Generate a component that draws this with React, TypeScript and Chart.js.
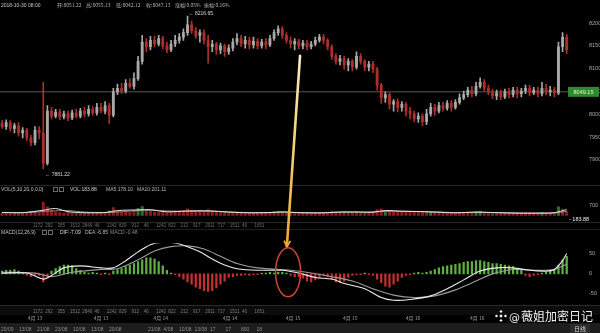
import React, { useEffect, useRef } from "react";
import { Chart, registerables } from "chart.js";
Chart.register(...registerables);

const SLOTS = 140;

// ---- price candles (4h) ----
const opens = [
  7980, 7973, 7982, 7969, 7975, 7959, 7965, 7948, 7938, 7965,
  7959, 7893, 8007, 7996, 8005, 7994, 8001, 7992, 8003, 7996,
  8007, 8001, 8011, 8003, 8015, 8007, 8019, 7998, 8049, 8057,
  8051, 8068, 8061, 8078, 8116, 8158, 8148, 8162, 8154, 8166,
  8150, 8141, 8154, 8162, 8169, 8179, 8196, 8183, 8173, 8179,
  8162, 8148, 8154, 8141, 8150, 8137, 8145, 8158, 8166, 8154,
  8162, 8152, 8160, 8150, 8158, 8152, 8166, 8179, 8187, 8173,
  8162, 8154, 8160, 8150, 8156, 8148, 8154, 8162, 8169, 8162,
  8148, 8127, 8116, 8122, 8108, 8116, 8103, 8127, 8116, 8103,
  8110, 8099, 8064, 8036, 8043, 8022, 8028, 8015, 8022, 8007,
  8001, 7990, 7996, 7984, 8001, 8015, 8007, 8019, 8013, 8024,
  8015, 8026, 8036, 8043, 8053, 8045, 8061, 8070, 8057, 8049,
  8040, 8047, 8038, 8049, 8043, 8053, 8045, 8051, 8057, 8047,
  8053, 8045, 8057, 8049, 8053, 8047, 8148, 8169,
];
const highs = [
  7986, 7988, 7986, 7980, 7982, 7971, 7969, 7954, 7973, 7973,
  8070, 8019, 8015, 8011, 8011, 8007, 8007, 8009, 8011, 8013,
  8015, 8019, 8017, 8024, 8024, 8028, 8024, 8057, 8066, 8068,
  8076, 8078, 8091, 8127, 8173, 8166, 8171, 8171, 8173, 8171,
  8158, 8162, 8173, 8177, 8187, 8215, 8204, 8190, 8185, 8185,
  8173, 8162, 8158, 8156, 8154, 8152, 8166, 8177, 8173, 8171,
  8169, 8169, 8166, 8164, 8166, 8173, 8185, 8194, 8192, 8179,
  8169, 8166, 8164, 8162, 8162, 8160, 8169, 8175, 8175, 8166,
  8152, 8133, 8129, 8127, 8122, 8120, 8137, 8133, 8120, 8116,
  8116, 8103, 8068, 8049, 8047, 8032, 8034, 8028, 8026, 8015,
  8007, 8003, 8001, 8011, 8024, 8022, 8026, 8026, 8030, 8030,
  8032, 8045, 8051, 8059, 8061, 8070, 8080, 8076, 8064, 8055,
  8053, 8053, 8055, 8057, 8059, 8059, 8057, 8064, 8064, 8059,
  8059, 8070, 8066, 8061, 8059, 8158, 8179, 8175,
];
const lows = [
  7969, 7967, 7963, 7959, 7952, 7948, 7942, 7931, 7933, 7946,
  7881, 7889, 7990, 7992, 7988, 7990, 7986, 7988, 7992, 7992,
  7994, 7996, 7998, 7998, 8003, 8001, 7980, 7994, 8043, 8045,
  8047, 8057, 8055, 8074, 8110, 8137, 8141, 8148, 8150, 8143,
  8135, 8137, 8148, 8156, 8162, 8173, 8177, 8166, 8158, 8154,
  8112, 8137, 8131, 8133, 8127, 8131, 8139, 8152, 8148, 8145,
  8143, 8145, 8143, 8145, 8143, 8148, 8162, 8173, 8166, 8156,
  8145, 8141, 8143, 8143, 8141, 8143, 8150, 8158, 8154, 8141,
  8120, 8110, 8108, 8099, 8095, 8095, 8099, 8110, 8095, 8095,
  8091, 8053, 8024, 8026, 8011, 8007, 8005, 8007, 7996, 7990,
  7984, 7982, 7975, 7977, 7996, 7998, 8003, 8007, 8009, 8007,
  8011, 8022, 8032, 8038, 8038, 8040, 8057, 8051, 8043, 8034,
  8032, 8032, 8034, 8036, 8038, 8036, 8038, 8045, 8040, 8043,
  8038, 8040, 8043, 8040, 8038, 8043, 8137, 8133,
];
const closes = [
  7973, 7982, 7969, 7975, 7959, 7965, 7948, 7938, 7965, 7959,
  7893, 8007, 7996, 8005, 7994, 8001, 7992, 8003, 7996, 8007,
  8001, 8011, 8003, 8015, 8007, 8019, 7998, 8049, 8057, 8051,
  8068, 8061, 8078, 8116, 8158, 8148, 8162, 8154, 8166, 8150,
  8141, 8154, 8162, 8169, 8179, 8196, 8183, 8173, 8179, 8162,
  8148, 8154, 8141, 8150, 8137, 8145, 8158, 8166, 8154, 8162,
  8152, 8160, 8150, 8158, 8152, 8166, 8179, 8187, 8173, 8162,
  8154, 8160, 8150, 8156, 8148, 8154, 8162, 8169, 8162, 8148,
  8127, 8116, 8122, 8108, 8116, 8103, 8127, 8116, 8103, 8110,
  8099, 8064, 8036, 8043, 8022, 8028, 8015, 8022, 8007, 8001,
  7990, 7996, 7984, 8001, 8015, 8007, 8019, 8013, 8024, 8015,
  8026, 8036, 8043, 8053, 8045, 8061, 8070, 8057, 8049, 8040,
  8047, 8038, 8049, 8043, 8053, 8045, 8051, 8057, 8047, 8053,
  8045, 8057, 8049, 8053, 8047, 8148, 8169, 8141,
];
const priceTicks = [7900, 7950, 8000, 8050, 8100, 8150, 8200];
const lastPrice = 8049.15;
const maxLabel = "8216.65";
const minLabel = "7881.22";

// ---- volume ----
const volumes = [
  180, 220, 150, 260, 190, 240, 170, 310, 280, 200,
  950, 620, 380, 260, 220, 180, 240, 200, 160, 210,
  190, 230, 170, 250, 180, 200, 340, 560, 320, 260,
  300, 240, 380, 520, 640, 360, 300, 260, 240, 280,
  220, 260, 300, 280, 340, 480, 360, 280, 240, 260,
  420, 300, 240, 220, 260, 200, 240, 220, 200, 180,
  210, 190, 230, 180, 200, 240, 280, 320, 260, 220,
  200, 180, 220, 190, 170, 200, 180, 220, 190, 240,
  300, 260, 220, 280, 240, 260, 300, 240, 220, 200,
  240, 420, 480, 320, 360, 280, 300, 260, 280, 300,
  260, 240, 280, 320, 260, 220, 200, 180, 200, 190,
  210, 240, 220, 260, 200, 280, 320, 240, 200, 180,
  190, 170, 200, 180, 160, 190, 170, 200, 180, 160,
  190, 240, 200, 180, 220, 620, 460, 300,
];
const volGreenIdx = [33, 34, 93, 104, 115, 116, 131, 135];
const volMa5 = [
  [0, 220], [5, 210], [10, 380], [13, 500], [16, 280], [20, 210], [25, 220], [28, 360],
  [33, 400], [36, 420], [40, 270], [45, 330], [50, 340], [55, 250], [60, 200], [65, 220],
  [68, 270], [72, 210], [78, 200], [82, 260], [86, 260], [90, 240], [93, 360], [97, 310],
  [102, 280], [106, 240], [110, 200], [115, 250], [119, 220], [124, 180], [130, 180],
  [134, 210], [137, 420],
];
const volMa10 = [
  [0, 230], [6, 220], [12, 330], [16, 350], [20, 250], [26, 220], [30, 300], [35, 380],
  [40, 330], [46, 300], [52, 300], [58, 230], [64, 210], [70, 230], [76, 200], [82, 230],
  [88, 250], [93, 300], [98, 310], [104, 270], [110, 220], [116, 230], [122, 210],
  [128, 180], [134, 190], [137, 300],
];
const volTicks = [700];
const lastVolume = "183.88";

// ---- MACD ----
const macdHist = [
  7, 9, 9, 11, 7, 4,
  -4, -7, -4, -4,
  -20,
  -9,
  7, 13, 18, 22, 22, 20, 13, 9,
  4, 2, 4, 2, -2, 2, -2,
  7, 11, 13, 18, 22, 26, 31, 35, 40, 40, 37, 31, 20, 9,
  2, -2,
  -7, -13, -20, -26, -33, -37, -42, -44, -42, -35, -26, -18, -9,
  -7, -4, -4, -2, -4, -2, -2, 2, 2, 4, 2,
  4, 4, 2, -4, -7, -7,
  -11, -18, -20, -15, -9,
  -4, -7,
  -13, -20, -22, -18, -9,
  -4, -2, -2, 2, -2, -4,
  -13, -22, -31, -33, -26, -18, -9,
  -4, -2, 2, 4, 2, 4, 7,
  11, 15, 18, 20, 22, 24, 26, 29, 31, 31, 33, 33, 31, 29, 26, 26, 24, 22, 20, 18, 13, 9,
  -4, -7, -4, -2,
  2, 4, 7, 9,
  22, 35, 44,
];
const difPts = [
  [0, 2], [6, 2], [10, -13], [12, -4], [15, 15], [19, 20], [24, 15], [27, 15], [30, 33],
  [33, 55], [36, 73], [39, 79], [42, 77], [45, 68], [48, 55], [51, 37], [54, 22], [57, 13],
  [62, 9], [68, 9], [72, 2], [76, -9], [80, -13], [83, -24], [88, -37], [92, -59], [95, -66],
  [99, -64], [104, -55], [108, -37], [112, -15], [116, 7], [120, 15], [124, 15], [128, 9],
  [132, 7], [134, 11], [136, 33], [137, 51],
];
const deaPts = [
  [0, 4], [8, 2], [12, -7], [17, 4], [24, 11], [28, 13], [33, 35], [37, 57], [41, 68],
  [45, 70], [49, 62], [53, 44], [57, 26], [62, 15], [70, 9], [75, 2], [80, -7], [85, -18],
  [90, -37], [95, -53], [100, -59], [105, -55], [110, -40], [115, -18], [119, 0], [124, 11],
  [130, 9], [134, 11], [137, 24],
];
const macdTicks = [-50, 0, 50];

// ---- text ----
const priceHeader = ["2018-10-30 08:00", "开:8051.22", "高:8055.13", "低:8042.12", "收:8047.13", "涨幅:0.05%", "振幅:0.16%"];
const volHeader = ["VOL(5,10,20,0,0,0)", "VOL:183.88", "MA5:178.10", "MA10:201.11"];
const macdHeader = ["MACD(12,26,9)", "DIF:-7.09", "DEA:-6.85", "MACD:-0.48"];
const numberRow = ["1172", "292", "355", "1512", "2846", "46", "1242", "829", "912", "46", "1242", "822", "212", "917", "2011", "717", "1511", "46", "1651"];
const dateTicks: [number, string][] = [
  [8, "4月 13"], [24, "4月 13"], [38.5, "4月 14"], [55.3, "4月 14"], [70.6, "4月 15"],
  [84.5, "4月 15"], [99.7, "4月 16"], [115.3, "4月 16"],
];
const bottomTimesA = ["20/09", "13/08", "21/08", "23/08", "10/08", "13/08", "20/08"];
const bottomTimesB = ["21/08", "4/08", "10/08", "13/08", "17", "17", "800", "18"];
const watermark = "薇姐加密日记";
const periodLabel = "日线";
const arrowFrom = [72.3, 8128];
const arrowTo = [69.1, 68];
const circleAt = [69.4, 4];

const UP = "#a9a9a9";
const DOWN = "#ad2f2a";
const AXIS_W = 23;
const VOL_TOP = 194;
const MACD_TOP = 236;

function axisY(min: number, max: number, ticks: number[], fmt: (v: number) => string) {
  return {
    position: "right",
    min,
    max,
    grid: { display: false },
    border: { display: false },
    afterBuildTicks: (s: any) => {
      s.ticks = ticks.map((v) => ({ value: v }));
    },
    afterFit: (s: any) => {
      s.width = AXIS_W;
    },
    ticks: {
      color: "#a8a8a8",
      font: { size: 5.5, family: "Liberation Sans" },
      padding: 4,
      callback: (v: any) => fmt(Number(v)),
    },
  };
}

function baseOptions(y: any) {
  return {
    responsive: false,
    maintainAspectRatio: false,
    animation: false,
    events: [],
    layout: { padding: 0 },
    plugins: { legend: { display: false }, tooltip: { enabled: false } },
    scales: {
      x: { type: "linear", min: -0.5, max: SLOTS - 0.5, display: false, offset: false },
      y,
    },
  };
}

function drawOverlay(cv: HTMLCanvasElement, price: any, vol: any, macd: any) {
  const ctx = cv.getContext("2d")!;
  ctx.clearRect(0, 0, cv.width, cv.height);
  const txt = (s: string, x: number, y: number, color: string, size: number, family = "Liberation Sans", align: CanvasTextAlign = "left") => {
    ctx.font = `${size}px "${family}"`;
    ctx.fillStyle = color;
    ctx.textAlign = align;
    ctx.textBaseline = "alphabetic";
    ctx.fillText(s, x, y);
  };
  const hline = (y: number, color: string) => {
    ctx.strokeStyle = color;
    ctx.lineWidth = 1;
    ctx.beginPath();
    ctx.moveTo(0, y);
    ctx.lineTo(600, y);
    ctx.stroke();
  };
  const box = (x: number, y: number) => {
    ctx.strokeStyle = "#6a6a6a";
    ctx.lineWidth = 1;
    ctx.strokeRect(x + 0.5, y + 0.5, 4, 4);
  };

  // strips & separators
  ctx.fillStyle = "#0c0c0c";
  ctx.fillRect(0, 306, 600, 9);
  ctx.fillStyle = "#1d1d1d";
  ctx.fillRect(0, 323, 600, 10);
  hline(185.5, "#262626");
  hline(222.5, "#2a2a2a");
  hline(229.5, "#1e1e1e");
  hline(305.5, "#2a2a2a");

  // price header
  const hx = [1, 57, 86, 116, 146, 175, 204];
  priceHeader.forEach((s, i) => txt(s, hx[i], 7, i === 0 ? "#c8c8c8" : "#b0b0b0", 5, i === 0 ? "Liberation Sans" : "Noto Sans CJK SC"));

  // max/min annotations
  const px = price.scales.x, py = price.scales.y;
  txt("← " + maxLabel, px.getPixelForValue(45) + 1, py.getPixelForValue(8215) - 1, "#d8d8d8", 5);
  txt("← " + minLabel, px.getPixelForValue(10) + 2, py.getPixelForValue(7881) + 7, "#d8d8d8", 5);

  // last price label
  const ly = py.getPixelForValue(lastPrice);
  ctx.fillStyle = "#2f8a2c";
  ctx.fillRect(568, ly - 5, 31, 10);
  txt(lastPrice.toFixed(2), 583.5, ly + 2.2, "#e8f5e0", 5.5, "Liberation Sans", "center");

  // volume header
  txt(volHeader[0], 1, 191, "#c0c0c0", 5);
  box(53, 187);
  box(59, 187);
  txt(volHeader[1], 70, 191, "#d0d0d0", 5);
  txt(volHeader[2], 106, 191, "#b8b8b8", 5);
  txt(volHeader[3], 137, 191, "#b8b8b8", 5);
  txt("- " + lastVolume, 569, 221, "#f0f0f0", 5.5);

  // number rows
  numberRow.forEach((s, i) => {
    txt(s, 33 + i * 12.3, 226.5, "#6e6e6e", 4.5);
    txt(s, 33 + i * 12.3, 312.5, "#7a7a7a", 4.5);
  });

  // macd header
  txt(macdHeader[0], 1, 234, "#c0c0c0", 5);
  box(42, 230);
  box(48, 230);
  txt(macdHeader[1], 60, 234, "#d8d8d8", 5);
  txt(macdHeader[2], 85, 234, "#b8b8b8", 5);
  txt(macdHeader[3], 110, 234, "#8a8a8a", 5);

  // date ticks
  const mx = macd.scales.x, my = macd.scales.y;
  dateTicks.forEach(([i, s]) => txt(s, mx.getPixelForValue(i), 320, "#a0a0a0", 5, "Noto Sans CJK SC", "center"));

  // bottom strip times
  bottomTimesA.forEach((s, i) => txt(s, 1 + i * 18, 330.5, "#8c8c8c", 5));
  bottomTimesB.forEach((s, i) => txt(s, 148 + i * 15.5, 330.5, "#8c8c8c", 5));
  ctx.fillStyle = "#2c2c2c";
  ctx.fillRect(570, 324, 20, 9);
  txt(periodLabel, 580, 331, "#cfcfcf", 6, "Noto Sans CJK SC", "center");

  // arrow
  const ax1 = px.getPixelForValue(arrowFrom[0]);
  const ay1 = py.getPixelForValue(arrowFrom[1]);
  const ax2 = mx.getPixelForValue(arrowTo[0]);
  const ay2 = my.getPixelForValue(arrowTo[1]) + MACD_TOP;
  const g = ctx.createLinearGradient(ax1, ay1, ax2, ay2);
  g.addColorStop(0, "#f6ecc0");
  g.addColorStop(0.5, "#f3cf72");
  g.addColorStop(1, "#f0a52c");
  ctx.strokeStyle = g;
  ctx.lineCap = "round";
  ctx.lineWidth = 2.6;
  ctx.beginPath();
  ctx.moveTo(ax1, ay1);
  ctx.lineTo(ax2, ay2);
  ctx.stroke();
  const ang = Math.atan2(ay2 - ay1, ax2 - ax1);
  ctx.lineWidth = 1.8;
  ctx.strokeStyle = "#f0a52c";
  ctx.beginPath();
  ctx.moveTo(ax2 - 6 * Math.cos(ang - 0.5), ay2 - 6 * Math.sin(ang - 0.5));
  ctx.lineTo(ax2, ay2);
  ctx.lineTo(ax2 - 6 * Math.cos(ang + 0.5), ay2 - 6 * Math.sin(ang + 0.5));
  ctx.stroke();

  // ellipse
  const cx = mx.getPixelForValue(circleAt[0]);
  const cy = my.getPixelForValue(circleAt[1]) + MACD_TOP;
  ctx.strokeStyle = "#c8463c";
  ctx.lineWidth = 1.5;
  ctx.beginPath();
  ctx.ellipse(cx, cy, 12.5, 24.5, 0, 0, Math.PI * 2);
  ctx.stroke();

  // watermark
  const lx = 501, lyy = 316;
  ctx.fillStyle = "#f2f2f2";
  const dia = (x: number, y: number, r: number) => {
    ctx.beginPath();
    ctx.moveTo(x, y - r);
    ctx.lineTo(x + r, y);
    ctx.lineTo(x, y + r);
    ctx.lineTo(x - r, y);
    ctx.closePath();
    ctx.fill();
  };
  dia(lx, lyy, 1.8);
  dia(lx - 4.5, lyy, 1.6);
  dia(lx + 4.5, lyy, 1.6);
  dia(lx, lyy - 4.5, 1.6);
  dia(lx, lyy + 4.5, 1.6);
  ctx.shadowColor = "rgba(0,0,0,0.6)";
  ctx.shadowBlur = 2;
  txt("@", 509, 320.5, "#f2f2f2", 11, "DejaVu Sans");
  txt(watermark, 521, 321, "#f4f4f4", 12, "Noto Sans CJK SC");
  ctx.shadowBlur = 0;
}

export default function App() {
  const pRef = useRef<HTMLCanvasElement>(null);
  const vRef = useRef<HTMLCanvasElement>(null);
  const mRef = useRef<HTMLCanvasElement>(null);
  const oRef = useRef<HTMLCanvasElement>(null);

  useEffect(() => {
    const idx = opens.map((_, i) => i);
    const candleColor = idx.map((i) => (closes[i] >= opens[i] ? UP : DOWN));

    const price = new Chart(pRef.current!, {
      type: "bar",
      data: {
        datasets: [
          {
            type: "line",
            data: [{ x: -0.5, y: lastPrice }, { x: SLOTS - 0.5, y: lastPrice }],
            borderColor: "#585858",
            borderWidth: 1,
            pointRadius: 0,
            order: 3,
          },
          {
            data: idx.map((i) => ({ x: i, y: [lows[i], highs[i]] })),
            backgroundColor: candleColor,
            barThickness: 1,
            grouped: false,
            order: 2,
          },
          {
            data: idx.map((i) => ({ x: i, y: [opens[i], closes[i]] })),
            backgroundColor: candleColor,
            barThickness: 2.2,
            minBarLength: 1,
            grouped: false,
            order: 1,
          },
        ],
      },
      options: baseOptions(axisY(7863.2, 8234.4, priceTicks, (v) => String(v))) as any,
    } as any);

    const vol = new Chart(vRef.current!, {
      type: "bar",
      data: {
        datasets: [
          {
            type: "line",
            data: volMa5.map(([x, y]) => ({ x, y })),
            borderColor: "#e6e6e6",
            borderWidth: 1,
            pointRadius: 0,
            tension: 0.3,
            order: 1,
          },
          {
            type: "line",
            data: volMa10.map(([x, y]) => ({ x, y })),
            borderColor: "#8d8d8d",
            borderWidth: 1,
            pointRadius: 0,
            tension: 0.3,
            order: 2,
          },
          {
            data: volumes.map((v, i) => ({ x: i, y: v })),
            backgroundColor: volumes.map((_, i) => (volGreenIdx.includes(i) ? "#2f6e2f" : "#8a1c1c")),
            barThickness: 2.4,
            grouped: false,
            order: 3,
          },
        ],
      },
      options: baseOptions(axisY(0, 1000, volTicks, (v) => String(v))) as any,
    } as any);

    const macd = new Chart(mRef.current!, {
      type: "bar",
      data: {
        datasets: [
          {
            type: "line",
            data: difPts.map(([x, y]) => ({ x, y })),
            borderColor: "#ececec",
            borderWidth: 1.1,
            pointRadius: 0,
            tension: 0.3,
            order: 1,
          },
          {
            type: "line",
            data: deaPts.map(([x, y]) => ({ x, y })),
            borderColor: "#9a9a9a",
            borderWidth: 1.1,
            pointRadius: 0,
            tension: 0.3,
            order: 2,
          },
          {
            data: macdHist.map((v, i) => ({ x: i, y: v })),
            backgroundColor: macdHist.map((v) => (v >= 0 ? "#5fae45" : "#c23030")),
            barThickness: 1.6,
            grouped: false,
            order: 3,
          },
        ],
      },
      options: baseOptions(axisY(-72, 76.4, macdTicks, (v) => String(v))) as any,
    } as any);

    drawOverlay(oRef.current!, price, vol, macd);

    return () => {
      price.destroy();
      vol.destroy();
      macd.destroy();
    };
  }, []);

  const abs = (top: number, h: number): React.CSSProperties => ({
    position: "absolute",
    left: 0,
    top,
    width: 600,
    height: h,
    display: "block",
  });

  return (
    <div style={{ position: "fixed", left: 0, top: 0, width: 600, height: 333, background: "#000", overflow: "hidden" }}>
      <canvas ref={pRef} width={600} height={184} style={abs(0, 184)} />
      <canvas ref={vRef} width={600} height={29} style={abs(VOL_TOP, 29)} />
      <canvas ref={mRef} width={600} height={74} style={abs(MACD_TOP, 74)} />
      <canvas ref={oRef} width={600} height={333} style={{ ...abs(0, 333), pointerEvents: "none" }} />
    </div>
  );
}
